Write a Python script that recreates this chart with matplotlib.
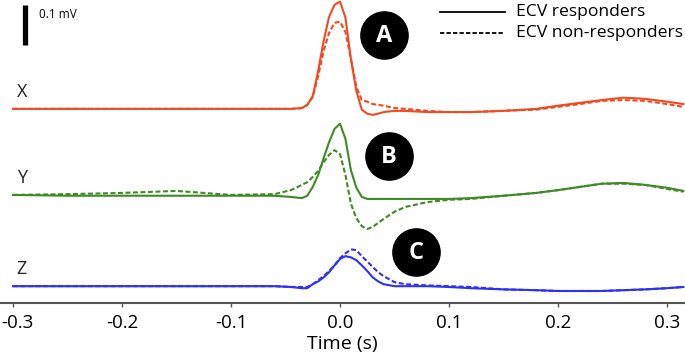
import numpy as np
import matplotlib
matplotlib.use("Agg")
import matplotlib.pyplot as plt
import matplotlib.transforms as mtransforms

plt.rcParams['font.family'] = ['Open Sans', 'DejaVu Sans']

# time axis (s), shared by all traces
t = [-0.30, -0.25, -0.20, -0.15, -0.10, -0.06, -0.045, -0.035, -0.03, -0.025,
     -0.02, -0.015, -0.01, -0.005, 0.0, 0.005, 0.01, 0.015, 0.02, 0.025,
     0.03, 0.035, 0.04, 0.05, 0.06, 0.08, 0.10, 0.12, 0.15, 0.18,
     0.20, 0.22, 0.24, 0.26, 0.28, 0.30, 0.315]

# averaged leads, microvolts relative to each lead's baseline
x_resp = [0, 0, 0, 0, 0, 0, 0, 2, 10, 32, 95, 170, 230, 260, 268, 228, 125, 45, -2, -12,
          -15, -12, -8, -5, -5, -8, -8, -8, -5, 0, 8, 15, 22, 28, 25, 18, 12]
x_nonresp = [0, 0, 0, 0, 0, 0, 0, 2, 10, 30, 82, 145, 190, 215, 218, 192, 125, 55, 22, 18,
             12, 10, 8, 2, 0, -5, -8, -8, -5, -2, 5, 12, 20, 22, 20, 12, 5]
y_resp = [0, -2, -2, -2, -2, -2, -5, -8, -2, 20, 50, 92, 132, 165, 178, 140, 62, 18, -5, -10,
          -10, -10, -10, -10, -10, -10, -10, -8, -2, 5, 12, 20, 28, 30, 25, 18, 10]
y_nonresp = [0, 2, 5, 10, 0, 2, 12, 25, 32, 45, 60, 82, 100, 112, 102, 50, -22, -58, -78, -85,
             -80, -70, -60, -42, -30, -18, -12, -10, -2, 5, 12, 20, 28, 28, 25, 15, 8]
z_resp = [0, 0, 0, 0, 0, 0, -2, -5, -5, 5, 12, 22, 35, 52, 68, 75, 72, 65, 52, 38,
          22, 12, 5, 0, 0, 0, -2, -5, -8, -10, -12, -12, -12, -10, -8, -5, -2]
z_nonresp = [0, 0, 0, 0, 0, 0, -2, -2, -2, 5, 15, 25, 38, 52, 70, 82, 92, 90, 75, 62,
             48, 35, 25, 10, 5, 2, 0, -2, -8, -10, -12, -12, -12, -10, -8, -5, -2]

leads = ['X', 'Y', 'Z']
panels = ['A', 'B', 'C']
offsets = [485, 270, 42]          # vertical stacking of the leads (uV)
colors = ['#f04a22', '#3f8a26', '#2f2ff5']
xticks = [-0.3, -0.2, -0.1, 0.0, 0.1, 0.2, 0.3]

resp = [x_resp, y_resp, z_resp]
nonresp = [x_nonresp, y_nonresp, z_nonresp]

fig = plt.figure(figsize=(6.85, 3.55), dpi=100)
ax = fig.add_axes([0, 1 - 303 / 355, 1, 303 / 355])
ax.set_xlim(-0.3119, 0.3165)
ax.set_ylim(0, 757)

t = np.array(t)
for i in range(3):
    ax.plot(t, np.array(resp[i]) + offsets[i], color=colors[i], lw=1.5)
    ax.plot(t, np.array(nonresp[i]) + offsets[i], color=colors[i], lw=1.5,
            ls='--', dashes=(2.4, 1.2))
    ax.text(-0.292, offsets[i] + 42, leads[i], fontsize=13, ha='center',
            va='center', color='#222222')

# panel letters in black circles
letter_pos = [(0.0404, 670), (0.045, 367), (0.0697, 127)]
for (lx, ly), p in zip(letter_pos, panels):
    ax.plot(lx, ly, 'o', ms=34, color='black', zorder=5)
    ax.text(lx, ly - 3, p, color='white', fontsize=17, fontweight='bold',
            ha='center', va='center', zorder=6)

# scale bar
ax.plot([-0.289, -0.289], [645, 745], color='black', lw=3.8, solid_capstyle='butt')
ax.text(-0.276, 722, '0.1 mV', fontsize=8.5, va='center', ha='left')

# legend drawn by hand
ax.plot([0.642, 0.737], [0.960, 0.960], transform=ax.transAxes, color='black', lw=1.3)
ax.plot([0.642, 0.737], [0.891, 0.891], transform=ax.transAxes, color='black', lw=1.3,
        ls='--', dashes=(2.4, 1.2))
ax.text(0.754, 0.960, 'ECV responders', transform=ax.transAxes, fontsize=12.6, va='center')
ax.text(0.754, 0.891, 'ECV non-responders', transform=ax.transAxes, fontsize=12.6, va='center')

for s in ['top', 'left', 'right']:
    ax.spines[s].set_visible(False)
ax.spines['bottom'].set_color('#555555')
ax.spines['bottom'].set_linewidth(1.5)
ax.set_yticks([])
ax.set_xticks(xticks)
ax.set_xticklabels([f'{v:.1f}' for v in xticks])
ax.tick_params(axis='x', length=3, width=1, color='#555555', labelsize=13.5, pad=5)
ax.set_xlabel('Time (s)', fontsize=14, labelpad=2)
ax.patch.set_alpha(0)

# keep the first tick label inside the figure
first = ax.get_xticklabels()[0]
first.set_transform(first.get_transform() +
                    mtransforms.ScaledTranslation(4 / 100, 0, fig.dpi_scale_trans))

fig.savefig('out.png', dpi=100)
